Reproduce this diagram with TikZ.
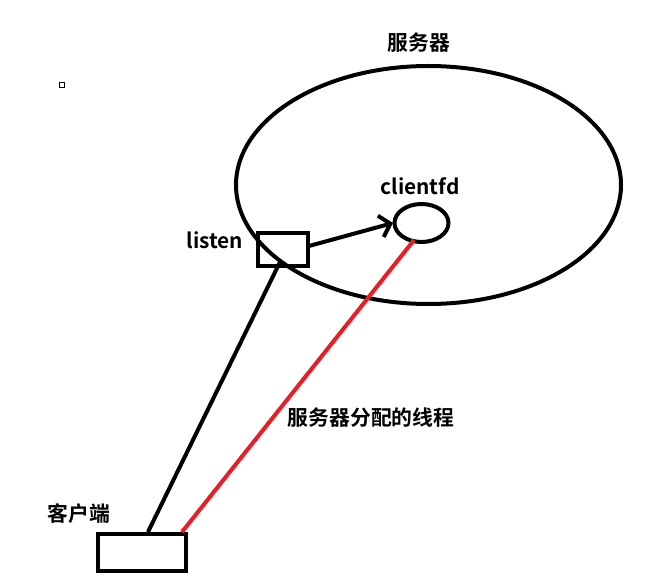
\documentclass[tikz,border=0pt]{standalone}
\usepackage{fontspec}
\newfontfamily\cjk{Noto Sans CJK SC}[BoldFont={Noto Sans CJK SC Bold}]
\usetikzlibrary{arrows.meta,shapes.geometric}
\definecolor{linered}{RGB}{237,28,36}
\tikzset{
  lbl/.style={font=\cjk\bfseries\fontsize{20.8pt}{24pt}\selectfont, inner sep=0pt},
  thick4/.style={line width=4pt},
}
\begin{document}
\begin{tikzpicture}[x=1pt,y=-1pt]
\useasboundingbox[fill=white] (0,0) rectangle (654,580);
% server ellipse
\node[thick4, draw, ellipse, minimum width=385pt, minimum height=238pt, inner sep=0pt] (server) at (428.5,185) {};
\node[lbl] (servert) at (419,43) {服务器};
% clientfd
\node[thick4, draw, ellipse, minimum width=54pt, minimum height=38pt, inner sep=0pt] (cfd) at (421.5,223) {};
\node[lbl] (cfdt) at (420,186) {clientfd};
% listen box
\node[thick4, draw, rectangle, minimum width=50pt, minimum height=33pt, inner sep=0pt] (listen) at (283,249.5) {};
\node[lbl] (listent) at (215,240) {listen};
% client box
\node[thick4, draw, rectangle, minimum width=88pt, minimum height=37pt, inner sep=0pt] (client) at (142,552.5) {};
\node[lbl] (clientt) at (79,514) {客户端};
% small square
\node[draw, line width=1.3pt, minimum size=5pt, inner sep=0pt] (sq) at (62,85) {};
% label of red line
\node[lbl] (thr) at (371,418) {服务器分配的线程};
% connectors
\coordinate (arrs) at (309,246);
\coordinate (arre) at (393,223);
\draw[thick4, -{Straight Barb[length=10pt, width=22pt, line width=4pt]}] (arrs) -- (arre);
\coordinate (bl1) at (148,532);
\coordinate (bl2) at (280,262);
\draw[thick4] (bl1) -- (bl2);
\coordinate (rd1) at (182,532);
\coordinate (rd2) at (414,240);
\draw[thick4, linered] (rd1) -- (rd2);
\end{tikzpicture}
\end{document}
